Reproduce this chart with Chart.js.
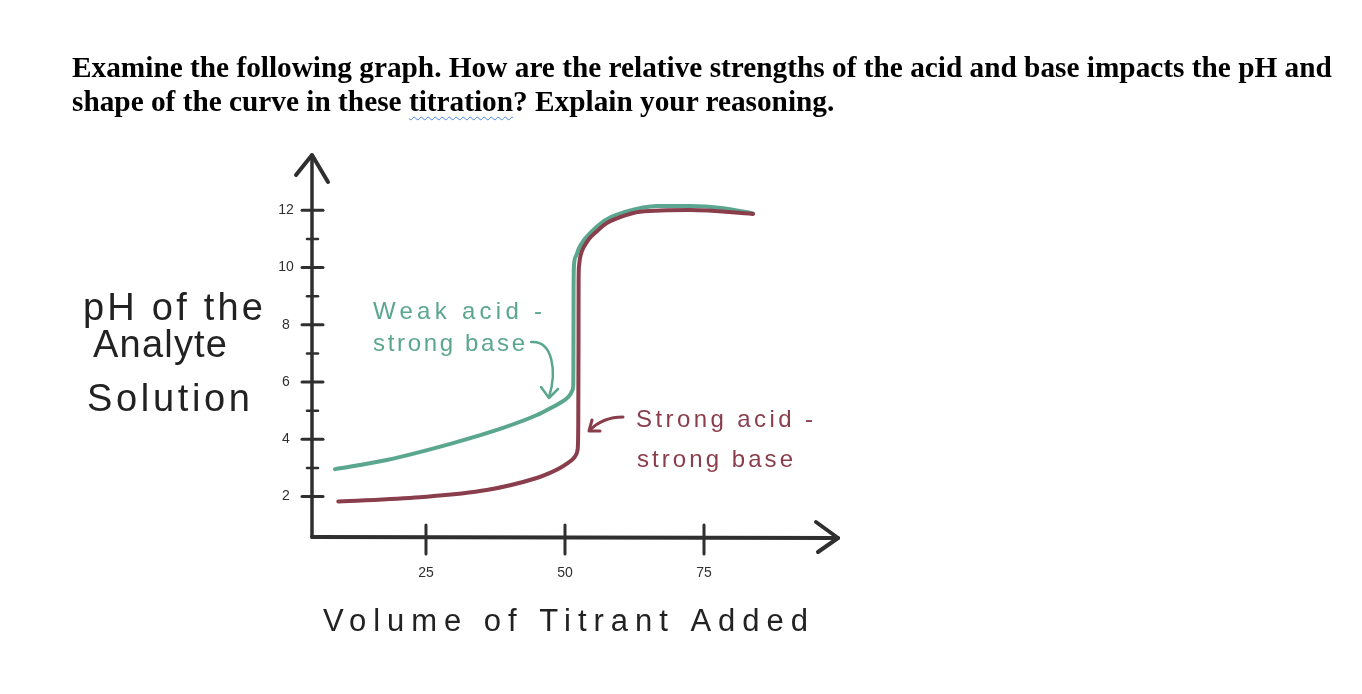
<!DOCTYPE html>
<html>
<head>
<meta charset="utf-8">
<title>Titration curves</title>
<script src="https://cdn.jsdelivr.net/npm/chart.js"></script>
<style>
  html, body { margin: 0; padding: 0; background: #fff; }
  #wrap { position: relative; width: 1362px; height: 694px; overflow: hidden; }
  #question {
    position: absolute; left: 72px; top: 50px;
    font: bold 29.3px "Liberation Serif", "Times New Roman", serif;
    line-height: 34px; color: #000; white-space: nowrap;
  }
  .squiggle {
    text-decoration: underline wavy #4a86e8;
    text-decoration-thickness: 1px;
    text-underline-offset: 5px;
  }
  #chart { position: absolute; left: 0; top: 0; }
</style>
</head>
<body>
<div id="wrap">
  <canvas id="chart" width="1362" height="694"></canvas>
  <div id="question">Examine the following graph. How are the relative strengths of the acid and base impacts the pH and<br>shape of the curve in these <span class="squiggle">titration</span>? Explain your reasoning.</div>
</div>
<script>
// Weak acid - strong base (green)
const weakVolume = [8.63, 17.93, 29.86, 38.85, 44.96, 47.30, 49.10, 50.18, 50.90, 51.35, 51.49, 51.51, 51.53, 51.55, 51.62, 51.98, 52.52, 53.42, 54.68, 56.29, 58.27, 60.43, 66.49, 72.48, 78.42, 83.81];
const weakPH     = [2.96, 3.28, 3.87, 4.40, 4.85, 5.08, 5.27, 5.41, 5.55, 5.72, 5.93, 6.42, 7.82, 9.39, 10.09, 10.40, 10.68, 10.96, 11.24, 11.52, 11.76, 11.92, 12.15, 12.15, 12.07, 11.89];

// Strong acid - strong base (maroon)
const strongVolume = [9.23, 23.92, 35.92, 44.91, 47.30, 49.10, 50.54, 51.44, 51.98, 52.25, 52.34, 52.39, 52.43, 52.45, 52.52, 52.70, 53.06, 53.60, 54.32, 55.58, 57.50, 59.89, 63.49, 72.48, 83.81];
const strongPH     = [1.83, 1.98, 2.23, 2.65, 2.83, 3.00, 3.18, 3.32, 3.46, 3.63, 3.87, 4.68, 7.12, 9.56, 10.05, 10.33, 10.58, 10.79, 11.00, 11.24, 11.55, 11.76, 11.95, 12.01, 11.87];

// Axis ticks
const yTickLabels = [2, 4, 6, 8, 10, 12];
const yMinorTicks = [3, 5, 7, 9, 11];
const xTickLabels = [25, 50, 75];

const GREEN = '#5ba68e';
const MAROON = '#8a3d4b';
const INK = '#2f2f2f';
const HAND = '"Liberation Sans", "DejaVu Sans", sans-serif';

// Draw text stretched to a given width (handwriting is spaced wide)
function fitText(ctx, text, x, y, width) {
  ctx.letterSpacing = '0px';
  const w = ctx.measureText(text).width;
  const gap = text.length > 1 ? (width - w) / (text.length - 1) : 0;
  ctx.letterSpacing = gap + 'px';
  ctx.fillText(text, x, y);
  ctx.letterSpacing = '0px';
}

const sketchAxes = {
  id: 'sketchAxes',
  beforeDatasetsDraw(chart) {
    const { ctx, chartArea, scales: { x, y } } = chart;
    const x0 = chartArea.left;
    const y0 = chartArea.bottom;
    const top = chartArea.top;
    const right = chartArea.right;

    ctx.save();
    ctx.strokeStyle = INK;
    ctx.lineCap = 'round';
    ctx.lineJoin = 'round';

    // y axis + arrow
    ctx.lineWidth = 3.5;
    ctx.beginPath();
    ctx.moveTo(x0, y0);
    ctx.lineTo(x0, top);
    ctx.stroke();
    ctx.lineWidth = 4;
    ctx.beginPath();
    ctx.moveTo(x0 - 16, top + 20);
    ctx.lineTo(x0, top);
    ctx.lineTo(x0 + 16, top + 27);
    ctx.stroke();

    // x axis + arrow
    ctx.lineWidth = 4;
    ctx.beginPath();
    ctx.moveTo(x0, y0);
    ctx.lineTo(right, y0 + 1);
    ctx.stroke();
    ctx.beginPath();
    ctx.moveTo(right - 22, y0 - 15);
    ctx.lineTo(right, y0 + 1);
    ctx.lineTo(right - 20, y0 + 15);
    ctx.stroke();

    // y ticks
    ctx.fillStyle = INK;
    ctx.font = '14px ' + HAND;
    ctx.textAlign = 'center';
    ctx.textBaseline = 'middle';
    ctx.lineWidth = 3;
    yTickLabels.forEach(v => {
      const py = y.getPixelForValue(v);
      ctx.beginPath();
      ctx.moveTo(x0 - 10, py);
      ctx.lineTo(x0 + 11, py);
      ctx.stroke();
      ctx.fillText(String(v), x0 - 26, py);
    });
    ctx.lineWidth = 2.5;
    yMinorTicks.forEach(v => {
      const py = y.getPixelForValue(v);
      ctx.beginPath();
      ctx.moveTo(x0 - 5, py);
      ctx.lineTo(x0 + 6, py);
      ctx.stroke();
    });

    // x ticks
    ctx.lineWidth = 3;
    xTickLabels.forEach(v => {
      const px = x.getPixelForValue(v);
      ctx.beginPath();
      ctx.moveTo(px, y0 - 12);
      ctx.lineTo(px, y0 + 17);
      ctx.stroke();
      ctx.fillText(String(v), px, y0 + 36);
    });
    ctx.restore();
  },
  afterDatasetsDraw(chart) {
    const { ctx } = chart;
    ctx.save();
    ctx.textAlign = 'left';
    ctx.textBaseline = 'alphabetic';

    // axis titles
    ctx.fillStyle = '#222';
    ctx.font = '38px ' + HAND;
    fitText(ctx, 'pH of the', 83, 320, 180);
    fitText(ctx, 'Analyte', 93, 357, 134);
    fitText(ctx, 'Solution', 87, 411, 163);
    ctx.font = '31px ' + HAND;
    fitText(ctx, 'Volume of Titrant Added', 323, 631, 485);

    ctx.lineCap = 'round';
    ctx.lineJoin = 'round';

    // weak acid note
    ctx.fillStyle = GREEN;
    ctx.strokeStyle = GREEN;
    ctx.font = '24px ' + HAND;
    fitText(ctx, 'Weak acid -', 373, 319, 169);
    fitText(ctx, 'strong base', 373, 351, 152);
    ctx.lineWidth = 2.5;
    ctx.beginPath();
    ctx.moveTo(531, 342);
    ctx.bezierCurveTo(553, 340, 557, 372, 549, 397);
    ctx.stroke();
    ctx.beginPath();
    ctx.moveTo(541, 387);
    ctx.lineTo(549, 398);
    ctx.lineTo(558, 389);
    ctx.stroke();

    // strong acid note
    ctx.fillStyle = MAROON;
    ctx.strokeStyle = MAROON;
    fitText(ctx, 'Strong acid -', 636, 427, 177);
    fitText(ctx, 'strong base', 637, 467, 156);
    ctx.lineWidth = 3;
    ctx.beginPath();
    ctx.moveTo(623, 417);
    ctx.quadraticCurveTo(603, 417, 590, 430);
    ctx.stroke();
    ctx.beginPath();
    ctx.moveTo(592, 420);
    ctx.lineTo(589, 431);
    ctx.lineTo(600, 431);
    ctx.stroke();
    ctx.restore();
  }
};

const toPoints = (xs, ys) => xs.map((v, i) => ({ x: v, y: ys[i] }));

new Chart(document.getElementById('chart'), {
  type: 'line',
  data: {
    datasets: [
      {
        label: 'Strong acid - strong base',
        data: toPoints(strongVolume, strongPH),
        borderColor: MAROON,
        borderWidth: 4,
        cubicInterpolationMode: 'monotone',
        borderCapStyle: 'round',
        borderJoinStyle: 'round',
        pointRadius: 0,
        fill: false
      },
      {
        label: 'Weak acid - strong base',
        data: toPoints(weakVolume, weakPH),
        borderColor: GREEN,
        borderWidth: 4,
        cubicInterpolationMode: 'monotone',
        borderCapStyle: 'round',
        borderJoinStyle: 'round',
        pointRadius: 0,
        fill: false
      }
    ]
  },
  options: {
    responsive: false,
    animation: false,
    events: [],
    layout: {
      padding: { left: 312, top: 155, right: 524, bottom: 157 }
    },
    scales: {
      x: { type: 'linear', min: 4.5, max: 99.1, display: false },
      y: { type: 'linear', min: 0.59, max: 13.93, display: false }
    },
    plugins: {
      legend: { display: false },
      tooltip: { enabled: false }
    }
  },
  plugins: [sketchAxes]
});
</script>
</body>
</html>
